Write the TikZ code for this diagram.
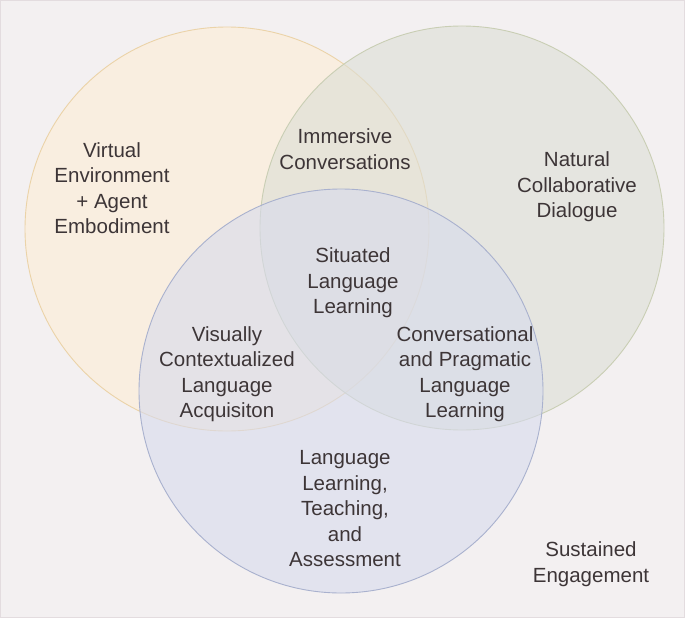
\documentclass[tikz,border=0pt]{standalone}
\usepackage{fontspec}
\setmainfont{Liberation Sans}
\usepackage{tikz}
\usetikzlibrary{shapes}

\definecolor{pagebg}{HTML}{F3F0F1}
\definecolor{pageline}{HTML}{E3DCDF}
\definecolor{envfill}{HTML}{FDEDD5}
\definecolor{envline}{HTML}{EBD3A8}
\definecolor{dialfill}{HTML}{DCDED5}
\definecolor{dialline}{HTML}{C9CEB4}
\definecolor{learnfill}{HTML}{D7DBED}
\definecolor{learnline}{HTML}{A9B1CE}
\definecolor{labeltext}{HTML}{3D3537}

\tikzset{
  venn/.style={circle, minimum size=404pt, inner sep=0pt, line width=0.9pt, fill opacity=0.6},
  lbl/.style={align=center, text=labeltext, font=\fontsize{20.5}{25.5}\selectfont}
}

\begin{document}
\begin{tikzpicture}[x=1pt,y=-1pt]
     \filldraw[fill=pagebg, draw=pageline, line width=1pt] (0.5,0.5) rectangle (684.5,617.5);
     \useasboundingbox (0,0) rectangle (685,618);
     % the three circles
     \node[name=env, venn, fill=envfill, draw=envline] at (227,229){};
     \node[name=dial, venn, fill=dialfill, draw=dialline] at (462,228){};
     \node[name=learn, venn, fill=learnfill, draw=learnline] at (341,391){};
     % labels
     \node[name=envtxt, lbl] at (112,188){Virtual\\Environment\\+ Agent\\Embodiment};
     \node[name=immtxt, lbl] at (345,149){Immersive\\Conversations};
     \node[name=dialtxt, lbl] at (577,187){Natural\\Collaborative\\Dialogue};
     \node[name=sittxt, lbl] at (353,283){Situated\\Language\\Learning};
     \node[name=vistxt, lbl] at (227,374){Visually\\Contextualized\\Language\\Acquisiton};
     \node[name=convtxt, lbl] at (465,374){Conversational\\and Pragmatic\\Language\\Learning};
     \node[name=learntxt, lbl] at (345,509){Language\\Learning,\\Teaching,\\and\\Assessment};
     \node[name=sustxt, lbl] at (591,564){Sustained\\Engagement};
  \end{tikzpicture}
\end{document}
